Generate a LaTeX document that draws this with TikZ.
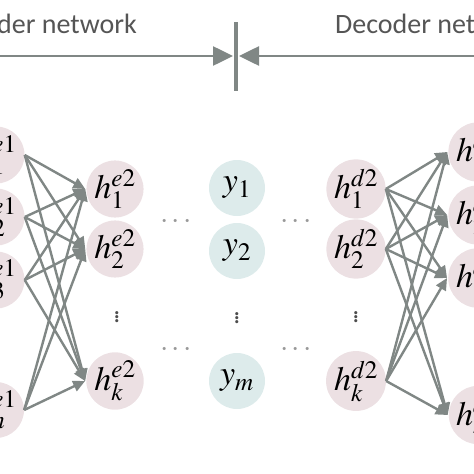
\documentclass[tikz,border=0pt]{standalone}
\usepackage{mathptmx}
\usepackage[no-math]{fontspec}
\setmainfont{Carlito}
\usepackage{tikz}
\usetikzlibrary{arrows.meta}
\definecolor{arrowgray}{RGB}{128,135,133}
\definecolor{hidpink}{RGB}{236,224,227}
\definecolor{codeteal}{RGB}{221,235,235}
\definecolor{titlegray}{RGB}{85,85,85}
\tikzset{
  unit/.style  = {circle, minimum size=56pt, inner sep=0pt, font=\fontsize{34}{34}\selectfont},
  hid/.style   = {unit, fill=hidpink},
  code/.style  = {unit, fill=codeteal},
  wire/.style  = {-{Triangle[length=12pt,width=11pt]}, line width=2.4pt, draw=arrowgray},
  span/.style  = {-{Triangle[length=20pt,width=19pt]}, line width=2.6pt, draw=arrowgray},
  title/.style = {font=\fontsize{28}{28}\selectfont, text=titlegray, inner sep=0pt},
  hdots/.style = {text=gray!80, font=\fontsize{30}{30}\selectfont, inner sep=0pt},
  vdots/.style = {text=black!70, font=\fontsize{26}{26}\selectfont, inner sep=0pt},
}
\begin{document}
\begin{tikzpicture}[x=1pt,y=-1pt]
    \useasboundingbox (0,0) rectangle (474,474);

    % Titles and the split marker
    \node[title, anchor=base east] (enc) at (137,33) {Encoder network};
    \node[title, anchor=base west] (dec) at (335,33) {Decoder network};
    \coordinate (split) at (236,56);
    \coordinate (lend) at (-10,56);
    \coordinate (rend) at (484,56);
    \draw[arrowgray, line width=3.5pt] (236,22) -- (236,91);
    \draw[span] (lend) -- ([xshift=-3pt]split);
    \draw[span] (rend) -- ([xshift=3pt]split);

    % Encoder input layer (cut at the left edge)
    \node[hid] (e1a) at (-4,155) {$h_1^{e1}$};
    \node[hid] (e1b) at (-4,217) {$h_2^{e1}$};
    \node[hid] (e1c) at (-4,280) {$h_3^{e1}$};
    \node[hid] (e1d) at (-4,410) {$h_n^{e1}$};

    % Encoder hidden layer
    \node[hid] (e2a) at (115,189) {$h_1^{e2}$};
    \node[hid] (e2b) at (115,249) {$h_2^{e2}$};
    \node[vdots] (e2dots) at (117,314) {$\vdots$};
    \node[hid] (e2k) at (115,381) {$h_k^{e2}$};

    % Code layer
    \node[code] (ya) at (237,188) {$y_1$};
    \node[code] (yb) at (237,251) {$y_2$};
    \node[vdots] (ydots) at (237,315) {$\vdots$};
    \node[code] (ym) at (237,381) {$y_m$};
    \node[hdots] (ldotsa) at (176,222) {$\cdots$};
    \node[hdots] (ldotsb) at (176,350) {$\cdots$};
    \node[hdots] (rdotsa) at (296,222) {$\cdots$};
    \node[hdots] (rdotsb) at (296,350) {$\cdots$};

    % Decoder hidden layer
    \node[hid] (d2a) at (356,189) {$h_1^{d2}$};
    \node[hid] (d2b) at (356,249) {$h_2^{d2}$};
    \node[vdots] (d2dots) at (356,314) {$\vdots$};
    \node[hid] (d2k) at (356,381) {$h_k^{d2}$};

    % Decoder output layer (cut at the right edge)
    \node[hid] (d1a) at (478,152) {$h_1^{d1}$};
    \node[hid] (d1b) at (478,215) {$h_2^{d1}$};
    \node[hid] (d1c) at (478,278) {$h_3^{d1}$};
    \node[hid] (d1d) at (478,415) {$h_n^{d1}$};

    % Full connections
    \foreach \s in {e1a,e1b,e1c,e1d}
      \foreach \t in {e2a,e2b,e2k}
        \draw[wire] (\s.east) -- ([xshift=-1pt]\t.west);
    \foreach \s in {d2a,d2b,d2k}
      \foreach \t in {d1a,d1b,d1c,d1d}
        \draw[wire] (\s.east) -- ([xshift=-1pt]\t.west);
\end{tikzpicture}
\end{document}
